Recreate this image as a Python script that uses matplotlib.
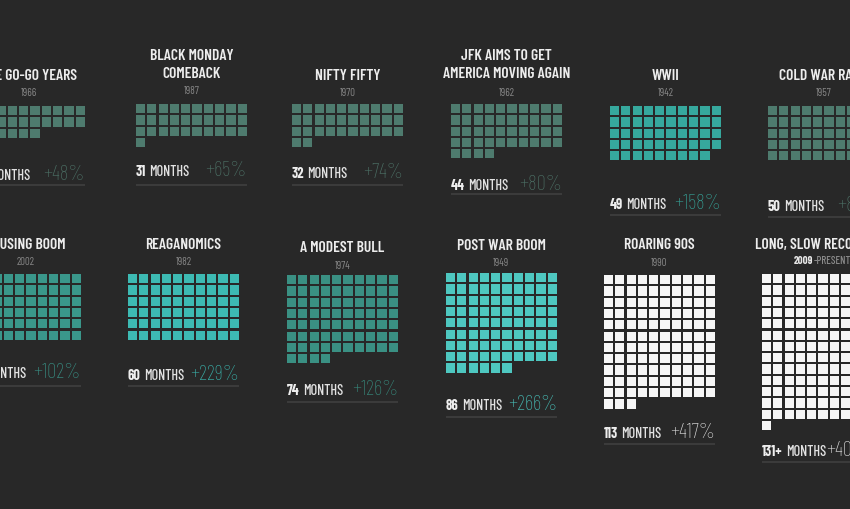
import matplotlib
matplotlib.use("Agg")
import matplotlib.pyplot as plt
from matplotlib.patches import Rectangle

# ---------------- data ----------------
titles = [
    ["THE GO-GO YEARS"], ["BLACK MONDAY", "COMEBACK"], ["NIFTY FIFTY"],
    ["JFK AIMS TO GET", "AMERICA MOVING AGAIN"], ["WWII"], ["COLD WAR RAMP"],
    ["HOUSING BOOM"], ["REAGANOMICS"], ["A MODEST BULL"],
    ["POST WAR BOOM"], ["ROARING 90S"], ["LONG, SLOW RECOVERY"],
]
years = ["1966", "1987", "1970", "1962", "1942", "1957",
         "2002", "1982", "1974", "1949", "1990", "2009"]
year_suffix = ["", "", "", "", "", "", "", "", "", "", "", "-PRESENT"]
months = [26, 31, 32, 44, 49, 50, 60, 60, 74, 86, 113, 131]
month_labels = ["26", "31", "32", "44", "49", "50",
                "60", "60", "74", "86", "113", "131+"]
gains = ["+48%", "+65%", "+74%", "+80%", "+158%", "+86%",
         "+102%", "+229%", "+126%", "+266%", "+417%", "+401%"]

# ---------------- styles / layout ----------------
square_colors = ["#4e7b6e", "#4e7b6e", "#4e7b6e", "#4e7b6e", "#36a89d", "#4e7b6e",
                 "#3a978b", "#3dbab3", "#3a9083", "#4ec7c0", "#f6f6f6", "#f6f6f6"]
gain_colors = ["#4d7267", "#4d7267", "#4d7267", "#4d7267", "#36a398", "#4d7267",
               "#399287", "#3ab1aa", "#37897c", "#48c0b9", "#e0e0e0", "#e0e0e0"]

grid_left = [-26, 136, 292, 451, 610, 768,
             -30, 128, 287, 446, 604, 762]
grid_top = [107, 105, 105, 105, 107, 107,
            275, 275, 276, 274, 276, 275]
title_y = [75, 73, 75, 73, 75, 75,
           244, 244, 247, 245, 244, 244]
year_y = [93, 91, 93, 92, 93, 93,
          262, 262, 266, 263, 263, 261]
label_y = [175, 171, 173, 185, 204, 206,
           373, 375, 390, 405, 433, 451]
rule_y = [186, 186, 186, 195, 216, 218,
          387, 387, 403, 418, 445, 463]

COLS = 10
PITCH = 11.3
SQ = 9.2
GRID_W = COLS * PITCH - (PITCH - SQ)

BG = "#282828"
FAM = ["Barlow Condensed", "DejaVu Sans"]

fig = plt.figure(figsize=(8.5, 5.1), dpi=100, facecolor=BG)
ax = fig.add_axes([0, 0, 1, 1])
ax.set_facecolor(BG)
ax.set_xlim(0, 850)
ax.set_ylim(510, 0)
ax.axis("off")

for i in range(len(months)):
    x0 = grid_left[i]
    cx = x0 + GRID_W / 2
    # title
    lines = titles[i]
    for k, line in enumerate(reversed(lines)):
        ax.text(cx, title_y[i] + 5 - k * 18, line, ha="center", va="baseline",
                fontsize=11.2, fontweight=600, color="#ededed", family=FAM)
    # year
    if year_suffix[i]:
        yt = ax.text(cx - 14, year_y[i] + 3.5, years[i], ha="center", va="baseline",
                     fontsize=7.8, fontweight=700, color="#e6e6e6", family=FAM)
        ax.annotate(year_suffix[i], xy=(1, 0), xycoords=yt, xytext=(0.3, 0),
                    textcoords="offset points", ha="left", va="bottom",
                    fontsize=7.8, fontweight=500, color="#8a8a8a", family=FAM)
    else:
        ax.text(cx, year_y[i] + 3.5, years[i], ha="center", va="baseline",
                fontsize=7.8, fontweight=400, color="#868686", family=FAM)
    # waffle squares
    for m in range(months[i]):
        r, c = divmod(m, COLS)
        ax.add_patch(Rectangle((x0 + c * PITCH, grid_top[i] + r * PITCH), SQ, SQ,
                               facecolor=square_colors[i], edgecolor="none"))
    # months label
    nt = ax.text(x0, label_y[i] + 5, month_labels[i], ha="left", va="baseline",
                 fontsize=10.3, fontweight=700, color="#eeeeee", family=FAM)
    ax.annotate("MONTHS", xy=(1, 0), xycoords=nt, xytext=(2.2, 0),
                textcoords="offset points", ha="left", va="bottom",
                fontsize=10.3, fontweight=500, color="#e2e2e2", family=FAM)
    # gain
    ax.text(x0 + GRID_W, label_y[i] + 5.5, gains[i], ha="right", va="baseline",
            fontsize=14.8, fontweight=250, color=gain_colors[i], family=FAM)
    # rule
    ax.plot([x0, x0 + GRID_W], [rule_y[i], rule_y[i]], color="#3f3f3f", lw=1.2,
            solid_capstyle="butt")

fig.savefig("out.png", dpi=100, facecolor=BG)
